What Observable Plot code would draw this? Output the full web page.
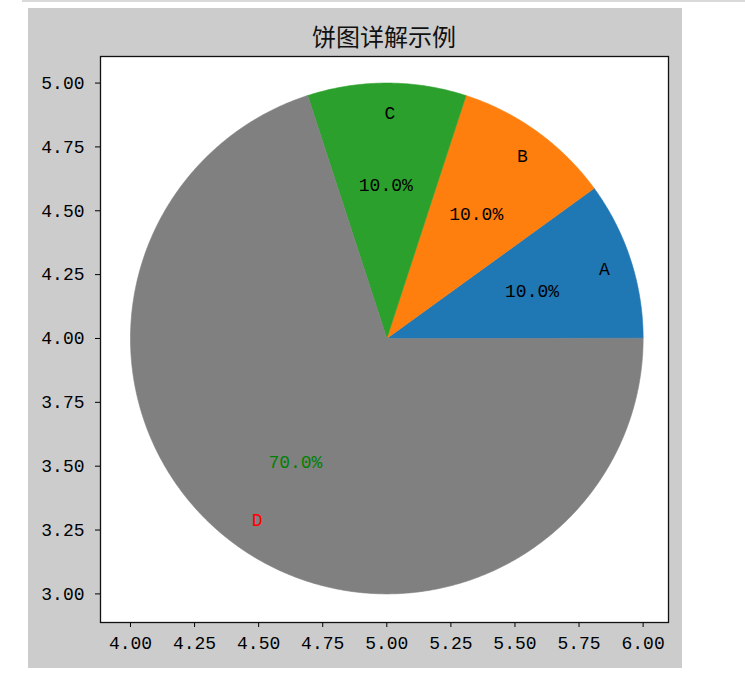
<!DOCTYPE html>
<html>
<head>
<meta charset="utf-8">
<script src="https://cdn.jsdelivr.net/npm/d3@7"></script>
<script src="https://cdn.jsdelivr.net/npm/@observablehq/plot@0.6"></script>
<style>
  html, body { margin: 0; padding: 0; background: #ffffff; }
  #topline { position: absolute; left: 22px; top: 0px; width: 723px; height: 2px; background: #d9d9d9; }
  #fig { position: absolute; left: 28px; top: 8px; width: 654px; height: 660px; background: #cccccc; }
  #title { position: absolute; left: 0; top: 12px; width: 712px; text-align: center;
           font-family: "Noto Sans CJK SC", sans-serif; font-size: 24px; line-height: 32px; color: #111; }
  #chart { position: absolute; left: 0; top: 44px; }
</style>
</head>
<body>
<div id="topline"></div>
<div id="fig">
  <div id="title">饼图详解示例</div>
  <div id="chart"></div>
</div>
<script>
// ---- data ----
const categories = ["A", "B", "C", "D"];
const values = [10, 10, 10, 70];
const sliceColors = ["#1f77b4", "#ff7f0e", "#2ca02c", "#808080"];
const labelColors = ["black", "black", "black", "red"];
const pctColors = ["black", "black", "black", "green"];
const center = [5, 4];
const radius = 1;
const labelDistance = 0.88;
const pctDistance = 0.6;
const xTicks = [4.0, 4.25, 4.5, 4.75, 5.0, 5.25, 5.5, 5.75, 6.0];
const yTicks = [3.0, 3.25, 3.5, 3.75, 4.0, 4.25, 4.5, 4.75, 5.0];
const xDomain = [3.883, 6.099];
const yDomain = [2.888, 5.104];

// ---- derived geometry from the values ----
const total = d3.sum(values);
let start = 0;
const wedges = [];
const labels = [];
const pcts = [];
categories.forEach((cat, i) => {
  const sweep = values[i] / total * 2 * Math.PI;
  const end = start + sweep;
  const n = Math.max(2, Math.ceil(sweep / (Math.PI / 360)));
  wedges.push({cat, x: center[0], y: center[1], color: sliceColors[i]});
  for (let k = 0; k <= n; k++) {
    const a = start + sweep * k / n;
    wedges.push({cat, x: center[0] + radius * Math.cos(a), y: center[1] + radius * Math.sin(a), color: sliceColors[i]});
  }
  const mid = (start + end) / 2;
  labels.push({text: cat, x: center[0] + labelDistance * radius * Math.cos(mid), y: center[1] + labelDistance * radius * Math.sin(mid), color: labelColors[i]});
  pcts.push({text: (values[i] / total * 100).toFixed(1) + "%", x: center[0] + pctDistance * radius * Math.cos(mid), y: center[1] + pctDistance * radius * Math.sin(mid), color: pctColors[i]});
  start = end;
});

const chart = Plot.plot({
  width: 654,
  height: 624,
  marginLeft: 72,
  marginRight: 14,
  marginTop: 4,
  marginBottom: 54,
  style: {background: "transparent", fontFamily: "'Liberation Mono', monospace", fontSize: "18px", color: "black", overflow: "visible"},
  color: {type: "identity"},
  x: {domain: xDomain, ticks: xTicks, tickFormat: d3.format(".2f"), tickSize: 5, tickPadding: 9, label: null},
  y: {domain: yDomain, ticks: yTicks, tickFormat: d3.format(".2f"), tickSize: 5, tickPadding: 11, label: null},
  marks: [
    Plot.frame({fill: "white", stroke: "none"}),
    Plot.line(wedges, {x: "x", y: "y", z: "cat", fill: "color", stroke: "color", strokeWidth: 0.6, curve: "linear-closed"}),
    Plot.text(labels, {x: "x", y: "y", text: "text", fill: "color", fontSize: 18, dx: 3}),
    Plot.text(pcts, {x: "x", y: "y", text: "text", fill: "color", fontSize: 18, dx: -1}),
    Plot.frame({stroke: "#111", strokeWidth: 1.3})
  ]
});
document.getElementById("chart").appendChild(chart);
</script>
</body>
</html>
